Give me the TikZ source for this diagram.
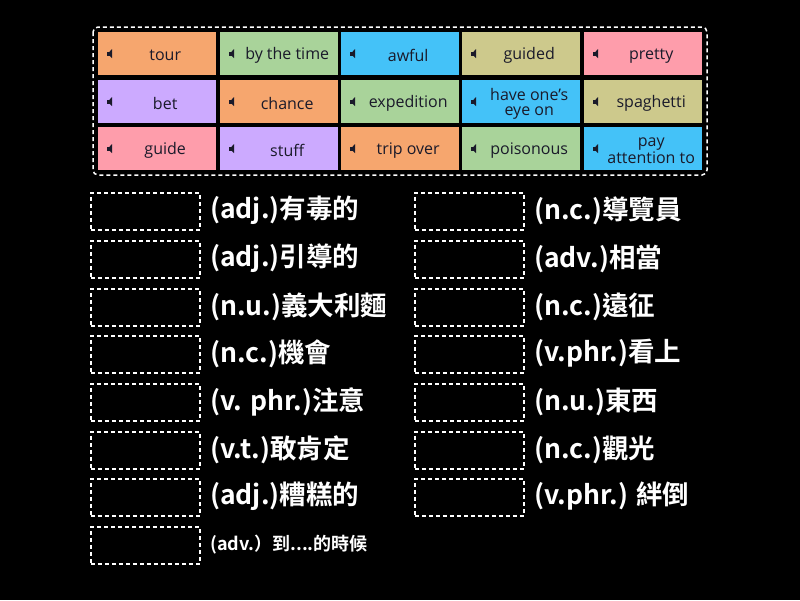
\documentclass[tikz,border=0pt]{standalone}
\usepackage{fontspec}
\setmainfont{Open Sans}
\newfontfamily\cjkb[BoldFont={Noto Sans CJK TC Bold}]{Noto Sans CJK TC}
\definecolor{cor}{HTML}{F6A66E}
\definecolor{cgr}{HTML}{A9D39A}
\definecolor{cbl}{HTML}{44C2F8}
\definecolor{col}{HTML}{CDC98C}
\definecolor{cpk}{HTML}{FE9DAB}
\definecolor{cpu}{HTML}{CCAAFF}
\definecolor{txt}{HTML}{1A1A2A}
\begin{document}
\begin{tikzpicture}[x=1pt,y=-1pt,
  tile/.style={minimum width=118pt,minimum height=43pt,inner sep=0pt,anchor=north west},
  slot/.style={draw=white,dash pattern=on 4pt off 3pt,line width=1.5pt,minimum width=109pt,minimum height=37pt,anchor=north west,inner sep=0pt},
  lab/.style={text=white,anchor=west,font=\cjkb\bfseries\fontsize{26.5}{26.5}\selectfont,inner sep=0pt}]
\fill[black] (0,0) rectangle (800,600);
\useasboundingbox (0,0) rectangle (800,600);
\draw[white,dash pattern=on 4pt off 3pt,line width=1.5pt,rounded corners=5pt] (93,27) rectangle (707,175);
\newcommand\tl[5]{\node[tile,fill=#3] (#4) at (#1,#2) {};
 \node[text=txt,font=\fontsize{16}{15}\selectfont,align=center] at ([xshift=8pt,yshift=-2pt]#4.center) {#5};
 \begin{scope}[shift={(#4.west)}]
 \fill[txt] (9,-2) rectangle (11.5,2);
 \fill[txt] (11.5,-2) -- (14,-4.5) -- (14,4.5) -- (11.5,2) -- cycle;
 \end{scope}}
\tl{98}{32}{cor}{t1}{tour}
\tl{220}{32}{cgr}{t2}{by the time}
\tl{341}{32}{cbl}{t3}{awful}
\tl{462}{32}{col}{t4}{guided}
\tl{584}{32}{cpk}{t5}{pretty}
\tl{98}{80}{cpu}{t6}{bet}
\tl{220}{80}{cor}{t7}{chance}
\tl{341}{80}{cgr}{t8}{expedition}
\tl{462}{80}{cbl}{t9}{have one's\\eye on}
\tl{584}{80}{col}{t10}{spaghetti}
\tl{98}{127}{cpk}{t11}{guide}
\tl{220}{127}{cpu}{t12}{stuff}
\tl{341}{127}{cor}{t13}{trip over}
\tl{462}{127}{cgr}{t14}{poisonous}
\tl{584}{127}{cbl}{t15}{pay\\attention to}
\foreach \y/\t [count=\i] in {192/{(adj.)有毒的},240/{(adj.)引導的},288/{(n.u.)義大利麵},335/{(n.c.)機會},383/{(v. phr.)注意},431/{(v.t.)敢肯定},478/{(adj.)糟糕的}}{
  \node[slot] (l\i) at (90,\y) {};
  \node[lab] (lt\i) at (210,\y+18.5) {\t};}
\node[slot] (l8) at (90,526) {};
\node[lab,font=\cjkb\bfseries\fontsize{18}{18}\selectfont] (lt8) at (210,544.5) {(adv.）到....的時候};
\foreach \y/\t [count=\i] in {192/{(n.c.)導覽員},240/{(adv.)相當},288/{(n.c.)遠征},335/{(v.phr.)看上},383/{(n.u.)東西},431/{(n.c.)觀光},478/{(v.phr.) 絆倒}}{
  \node[slot] (r\i) at (414,\y) {};
  \node[lab] (rt\i) at (534,\y+18.5) {\t};}
\end{tikzpicture}
\end{document}
